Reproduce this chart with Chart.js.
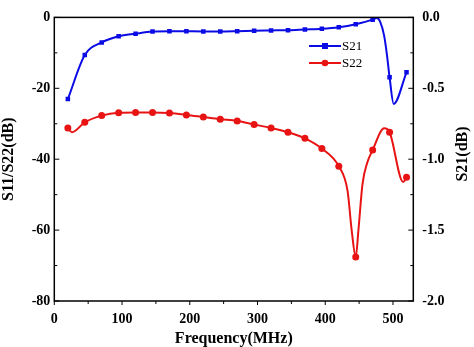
<!DOCTYPE html>
<html>
<head>
<meta charset="utf-8">
<script src="https://cdn.jsdelivr.net/npm/chart.js@4.4.0/dist/chart.umd.min.js"></script>
<style>
  html, body { margin: 0; padding: 0; background: #fff; }
  #wrap { width: 474px; height: 347px; }
</style>
</head>
<body>
<div id="wrap"><canvas id="grafico"></canvas></div>
<script>
// frequencias com marcador (MHz)
var freq = [20, 45, 70, 95, 120, 145, 170, 195, 220, 245, 270, 295, 320, 345, 370, 395, 420, 445, 470, 495, 520];

// S21 (eixo da direita, dB)
var s21 = [-0.576, -0.265, -0.177, -0.133, -0.115, -0.100, -0.097, -0.098, -0.099, -0.099, -0.097,
           -0.094, -0.092, -0.090, -0.085, -0.080, -0.069, -0.048, -0.016, -0.422, -0.387];
// pontos da curva sem marcador
var s21CurvaFreq = [476, 481, 487, 491, 501];
var s21Curva = [-0.004, -0.03, -0.13, -0.26, -0.61];

// S22 (eixo da esquerda, dB)
var s22 = [-31.2, -29.6, -27.7, -26.9, -26.8, -26.8, -27.0, -27.5, -28.1, -28.7, -29.2,
           -30.2, -31.2, -32.4, -34.1, -37.0, -42.0, -67.6, -37.4, -32.4, -45.1];
var s22CurvaFreq = [26, 433, 439, 449, 455, 462, 487, 515];
var s22Curva = [-32.4, -49, -60, -60, -47, -41, -31.3, -46.4];

var xTicks = [0, 100, 200, 300, 400, 500];
var leftTicks = [0, -20, -40, -60, -80];
var rightTicks = [0.0, -0.5, -1.0, -1.5, -2.0];

var azul = '#0b0be6';
var vermelho = '#e81414';
var fonte = '"Liberation Serif", "Times New Roman", serif';

// junta marcadores e pontos da curva
function montar(fx, fy, cx, cy) {
    var pts = [];
    for (var i = 0; i < fx.length; i++) pts.push({ x: fx[i], y: fy[i], m: true });
    for (var j = 0; j < cx.length; j++) pts.push({ x: cx[j], y: cy[j], m: false });
    pts.sort(function (a, b) { return a.x - b.x; });
    return pts;
}
var dadosS21 = montar(freq, s21, s21CurvaFreq, s21Curva);
var dadosS22 = montar(freq, s22, s22CurvaFreq, s22Curva);

// moldura, ticks, legenda e titulo da direita
var moldura = {
    id: 'moldura',
    afterDatasetsDraw: function (chart) {
        var c = chart.ctx, a = chart.chartArea;
        var sx = chart.scales.x, sl = chart.scales.y, sr = chart.scales.y1;
        c.save();
        c.strokeStyle = '#000';
        c.lineWidth = 1.5;
        c.strokeRect(a.left, a.top, a.right - a.left, a.bottom - a.top);
        c.lineWidth = 1;
        c.beginPath();
        var v, p, len;
        for (v = 0; v <= 500; v += 50) {
            p = sx.getPixelForValue(v);
            len = (v % 100 === 0) ? 4 : 3;
            c.moveTo(p, a.bottom); c.lineTo(p, a.bottom + len);
        }
        for (v = -80; v <= 0; v += 10) {
            p = sl.getPixelForValue(v);
            len = (v % 20 === 0) ? 5 : 3;
            c.moveTo(a.left, p); c.lineTo(a.left + len, p);
        }
        for (v = -2; v <= 0.001; v += 0.25) {
            p = sr.getPixelForValue(v);
            len = (Math.abs(v * 2 - Math.round(v * 2)) < 0.01) ? 5 : 3;
            c.moveTo(a.right, p); c.lineTo(a.right - len, p);
        }
        c.stroke();

        // legenda
        var itens = [[azul, 'S21', 'rect', 46], [vermelho, 'S22', 'circle', 63]];
        c.font = '13px ' + fonte;
        c.textBaseline = 'middle';
        itens.forEach(function (it) {
            c.strokeStyle = it[0]; c.fillStyle = it[0];
            c.lineWidth = 2;
            c.beginPath(); c.moveTo(309, it[3]); c.lineTo(341, it[3]); c.stroke();
            if (it[2] === 'rect') c.fillRect(322, it[3] - 3, 6, 6);
            else { c.beginPath(); c.arc(325, it[3], 3.3, 0, Math.PI * 2); c.fill(); }
            c.fillStyle = '#000';
            c.fillText(it[1], 342, it[3] + 1);
        });

        // titulo do eixo da direita, lido de baixo para cima
        c.translate(462.5, 154);
        c.rotate(-Math.PI / 2);
        c.font = 'bold 16px ' + fonte;
        c.textAlign = 'center';
        c.textBaseline = 'middle';
        c.fillStyle = '#000';
        c.fillText('S21(dB)', 0, 0);
        c.restore();
    }
};

var ctx = document.getElementById('grafico').getContext('2d');

var meuGrafico = new Chart(ctx, {
    type: 'line',
    data: {
        datasets: [{
            label: 'S21',
            data: dadosS21,
            yAxisID: 'y1',
            borderColor: azul,
            backgroundColor: azul,
            borderWidth: 2,
            cubicInterpolationMode: 'monotone',
            pointStyle: 'rect',
            pointRadius: function (c) { return c.raw && c.raw.m ? 3.2 : 0; },
            pointBorderWidth: 0
        }, {
            label: 'S22',
            data: dadosS22,
            yAxisID: 'y',
            borderColor: vermelho,
            backgroundColor: vermelho,
            borderWidth: 2,
            cubicInterpolationMode: 'monotone',
            pointStyle: 'circle',
            pointRadius: function (c) { return c.raw && c.raw.m ? 3.5 : 0; },
            pointBorderWidth: 0
        }]
    },
    options: {
        responsive: true,
        maintainAspectRatio: false,
        animation: false,
        layout: { padding: { top: 11, right: 0, left: 0, bottom: 0 } },
        plugins: {
            legend: { display: false },
            tooltip: { enabled: false }
        },
        scales: {
            x: {
                type: 'linear',
                min: 0,
                max: 530,
                afterFit: function (s) { s.height = 46; },
                afterBuildTicks: function (s) { s.ticks = xTicks.map(function (v) { return { value: v }; }); },
                grid: { display: false, drawTicks: false },
                border: { display: false },
                ticks: { color: '#000', padding: 10, maxRotation: 0, font: { family: fonte, size: 14, weight: 'bold' } },
                title: {
                    display: true,
                    text: 'Frequency(MHz)',
                    color: '#000',
                    padding: { top: 0, bottom: 0 },
                    font: { family: fonte, size: 16, weight: 'bold', lineHeight: 1 }
                }
            },
            y: {
                position: 'left',
                min: -80,
                max: 0,
                afterFit: function (s) { s.width = 54.3; },
                afterBuildTicks: function (s) { s.ticks = leftTicks.map(function (v) { return { value: v }; }); },
                grid: { display: false, drawTicks: false },
                border: { display: false },
                ticks: { color: '#000', padding: 4, font: { family: fonte, size: 14, weight: 'bold' } },
                title: {
                    display: true,
                    text: 'S11/S22(dB)',
                    color: '#000',
                    padding: { top: 1, bottom: 0 },
                    font: { family: fonte, size: 16, weight: 'bold', lineHeight: 1 }
                }
            },
            y1: {
                position: 'right',
                min: -2,
                max: 0,
                afterFit: function (s) { s.width = 474 - 413.3; },
                afterBuildTicks: function (s) { s.ticks = rightTicks.map(function (v) { return { value: v }; }); },
                grid: { display: false, drawTicks: false },
                border: { display: false },
                ticks: {
                    color: '#000',
                    padding: 9,
                    font: { family: fonte, size: 14, weight: 'bold' },
                    callback: function (v) { return v.toFixed(1); }
                }
            }
        }
    },
    plugins: [moldura]
});
</script>
</body>
</html>
